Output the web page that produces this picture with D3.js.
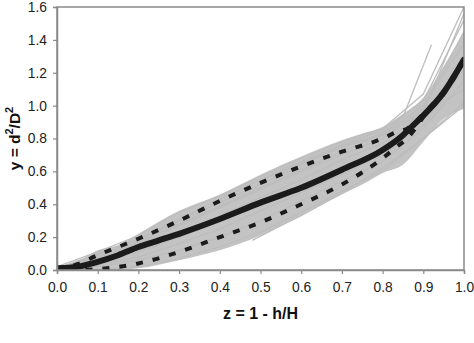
<!DOCTYPE html>
<html>
<head>
<meta charset="utf-8">
<script src="https://cdn.jsdelivr.net/npm/d3@7/dist/d3.min.js"></script>
<style>
  html, body { margin: 0; padding: 0; background: #fff; }
  svg { display: block; font-family: "Liberation Sans", Arial, sans-serif; }
</style>
</head>
<body>
<svg id="chart" width="474" height="343"></svg>
<script>
// Relative stem profiles y = d²/D² against relative height z = 1 - h/H

const xTicks = [0, 0.1, 0.2, 0.3, 0.4, 0.5, 0.6, 0.7, 0.8, 0.9, 1.0];
const yTicks = [0, 0.2, 0.4, 0.6, 0.8, 1.0, 1.2, 1.4, 1.6];

// envelope of the measured profiles
const bandZ     = [0, 0.05, 0.1, 0.15, 0.2, 0.3, 0.4, 0.5, 0.6, 0.7, 0.75, 0.8, 0.85, 0.9, 0.95, 1.0];
const bandUpper = [0.02, 0.05, 0.12, 0.15, 0.22, 0.36, 0.46, 0.58, 0.69, 0.79, 0.83, 0.87, 0.95, 1.05, 1.24, 1.45];
const bandLower = [0, 0, 0, 0, 0.01, 0.06, 0.12, 0.21, 0.33, 0.46, 0.52, 0.59, 0.64, 0.78, 0.92, 0.98];

// individual tree profiles
const profileZ = [0, 0.1, 0.2, 0.3, 0.4, 0.5, 0.6, 0.7, 0.8, 0.9, 1.0];
const profile1 = [0.02, 0.11, 0.21, 0.35, 0.45, 0.57, 0.68, 0.78, 0.86, 1.07, 1.60];
const profile2 = [0.01, 0.10, 0.19, 0.31, 0.43, 0.55, 0.66, 0.76, 0.85, 1.03, 1.52];
const profile3 = [0.01, 0.07, 0.16, 0.27, 0.38, 0.49, 0.60, 0.70, 0.80, 0.98, 1.45];
const profile4 = [0.00, 0.04, 0.11, 0.20, 0.30, 0.40, 0.50, 0.61, 0.74, 0.92, 1.30];
const profile5 = [0.00, 0.02, 0.06, 0.12, 0.20, 0.30, 0.42, 0.54, 0.66, 0.86, 1.15];
const profile6 = [0.00, 0.00, 0.02, 0.07, 0.14, 0.23, 0.35, 0.48, 0.60, 0.80, 1.00];
const profile7 = [0.01, 0.09, 0.18, 0.30, 0.41, 0.52, 0.64, 0.75, 0.82, 1.00, 1.38];
const profile8 = [0.00, 0.03, 0.08, 0.16, 0.25, 0.36, 0.47, 0.58, 0.70, 0.88, 1.22];
const profile9 = [0.01, 0.08, 0.17, 0.28, 0.39, 0.50, 0.61, 0.72, 0.83, 0.95, 1.10];
const profile10 = [0.00, 0.05, 0.13, 0.22, 0.33, 0.44, 0.55, 0.67, 0.77, 0.96, 1.56];
// a stem that leaves the band near the top
const outlierZ = [0.5, 0.6, 0.7, 0.8, 0.85, 0.92];
const outlierY = [0.55, 0.65, 0.75, 0.83, 0.93, 1.37];
// a short stem measured only in its upper part
const shortZ = [0.48, 0.55, 0.6, 0.7, 0.8, 0.9, 1.0];
const shortY = [0.18, 0.27, 0.33, 0.47, 0.62, 0.80, 1.02];

// mean profile and its confidence limits
const meanZ = [0, 0.05, 0.1, 0.15, 0.2, 0.25, 0.3, 0.4, 0.5, 0.6, 0.7, 0.8, 0.85, 0.875, 0.9, 0.95, 1.0];
const meanY = [0.01, 0.02, 0.05, 0.09, 0.14, 0.18, 0.22, 0.31, 0.41, 0.50, 0.61, 0.73, 0.82, 0.88, 0.94, 1.08, 1.28];
const upperZ = [0, 0.05, 0.1, 0.2, 0.3, 0.4, 0.5, 0.6, 0.7, 0.8, 0.835, 0.86, 0.9, 0.95, 1.0];
const upperY = [0.00, 0.035, 0.09, 0.19, 0.30, 0.42, 0.53, 0.63, 0.72, 0.80, 0.84, 0.86, 0.95, 1.09, 1.29];
const lowerZ = [0.07, 0.1, 0.2, 0.3, 0.4, 0.5, 0.6, 0.7, 0.8, 0.835, 0.86, 0.88, 0.9, 0.95, 1.0];
const lowerY = [0.00, 0.005, 0.04, 0.11, 0.20, 0.29, 0.40, 0.52, 0.68, 0.75, 0.80, 0.86, 0.93, 1.07, 1.27];

const svg = d3.select("#chart");
const plot = { left: 57, right: 464, top: 7, bottom: 270 };

const x = d3.scaleLinear().domain([0, 1]).range([plot.left, plot.right]);
const y = d3.scaleLinear().domain([0, 1.6]).range([plot.bottom, plot.top]);

const pairs = (zs, ys) => zs.map((z, i) => [z, ys[i]]);
const line = d3.line().x(d => x(d[0])).y(d => y(d[1])).curve(d3.curveMonotoneX);
const straight = d3.line().x(d => x(d[0])).y(d => y(d[1]));

svg.append("clipPath").attr("id", "plotClip")
  .append("rect")
  .attr("x", plot.left).attr("y", plot.top)
  .attr("width", plot.right - plot.left).attr("height", plot.bottom - plot.top);

const g = svg.append("g").attr("clip-path", "url(#plotClip)");

// grey band of all measured profiles
const area = d3.area()
  .x((d, i) => x(bandZ[i]))
  .y0((d, i) => y(bandLower[i]))
  .y1((d, i) => y(bandUpper[i]))
  .curve(d3.curveMonotoneX);
g.append("path").datum(bandZ).attr("d", area).attr("fill", "#c3c3c3");

const profiles = [profile1, profile2, profile3, profile4, profile5, profile6, profile7, profile8, profile9, profile10];
profiles.forEach(p => {
  g.append("path").datum(pairs(profileZ, p)).attr("d", straight)
    .attr("fill", "none").attr("stroke", "#bdbdbd").attr("stroke-width", 1.3);
});
g.append("path").datum(pairs(outlierZ, outlierY)).attr("d", straight)
  .attr("fill", "none").attr("stroke", "#bdbdbd").attr("stroke-width", 1.3);
g.append("path").datum(pairs(shortZ, shortY)).attr("d", straight)
  .attr("fill", "none").attr("stroke", "#bdbdbd").attr("stroke-width", 1.3);

// mean profile
g.append("path").datum(pairs(meanZ, meanY)).attr("d", line)
  .attr("fill", "none").attr("stroke", "#1b1b1b").attr("stroke-width", 6)
  .attr("stroke-linecap", "round");

// confidence limits
[[upperZ, upperY], [lowerZ, lowerY]].forEach(([zs, ys]) => {
  g.append("path").datum(pairs(zs, ys)).attr("d", line)
    .attr("fill", "none").attr("stroke", "#1b1b1b").attr("stroke-width", 4)
    .attr("stroke-dasharray", "7,10");
});

// frame
svg.append("rect")
  .attr("x", plot.left).attr("y", plot.top)
  .attr("width", plot.right - plot.left).attr("height", plot.bottom - plot.top)
  .attr("fill", "none").attr("stroke", "#8a8a8a").attr("stroke-width", 1.5);

// axes
const xAxis = svg.append("g")
  .attr("transform", `translate(0,${plot.bottom})`)
  .call(d3.axisBottom(x).tickValues(xTicks).tickFormat(d3.format(".1f")).tickSize(4).tickPadding(8));
const yAxis = svg.append("g")
  .attr("transform", `translate(${plot.left},0)`)
  .call(d3.axisLeft(y).tickValues(yTicks).tickFormat(d3.format(".1f")).tickSize(4).tickPadding(6));

[xAxis, yAxis].forEach(a => {
  a.select(".domain").attr("stroke", "#8a8a8a").attr("stroke-width", 1.5);
  a.selectAll(".tick line").attr("stroke", "#8a8a8a").attr("stroke-width", 1.2);
  a.selectAll(".tick text").attr("fill", "#222").style("font-size", "13.8px")
    .style("font-family", "'Liberation Sans', Arial, sans-serif");
});

// axis titles
svg.append("text")
  .attr("x", (plot.left + plot.right) / 2).attr("y", 319)
  .attr("text-anchor", "middle")
  .style("font-size", "16px").style("font-weight", "bold").attr("fill", "#111")
  .text("z = 1 - h/H");

const yTitle = svg.append("text")
  .attr("transform", `translate(20,${(plot.top + plot.bottom) / 2}) rotate(-90)`)
  .attr("text-anchor", "middle")
  .style("font-size", "15.5px").style("font-weight", "bold").attr("fill", "#111");
yTitle.append("tspan").text("y = d");
yTitle.append("tspan").attr("dy", -7).style("font-size", "11px").text("2");
yTitle.append("tspan").attr("dy", 7).text("/D");
yTitle.append("tspan").attr("dy", -7).style("font-size", "11px").text("2");
</script>
</body>
</html>
